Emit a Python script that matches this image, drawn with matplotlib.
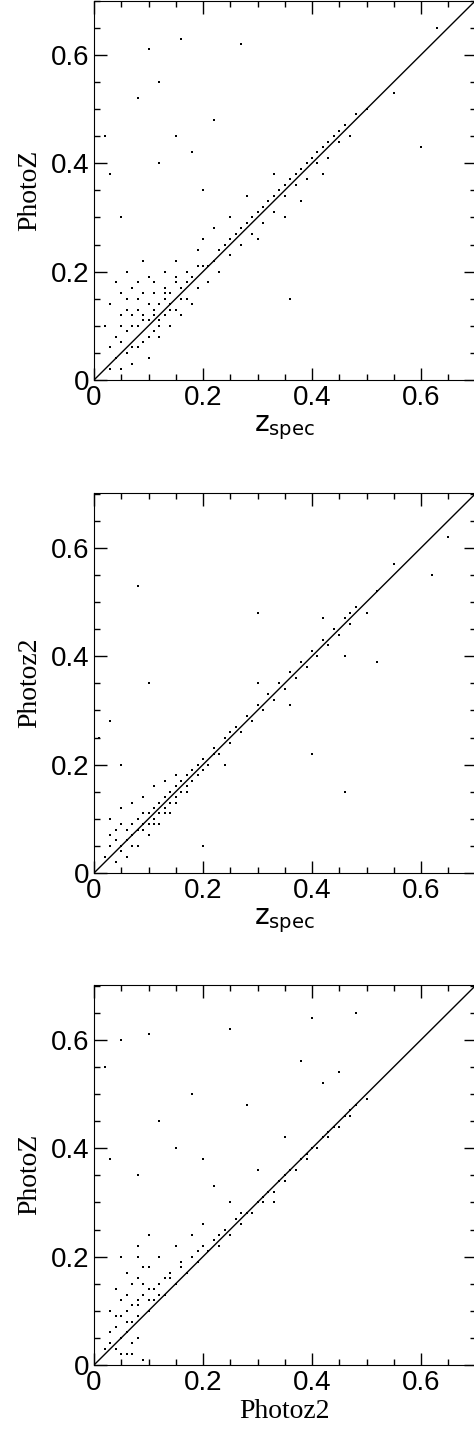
import matplotlib
matplotlib.use("Agg")
import matplotlib.pyplot as plt
from matplotlib.ticker import MultipleLocator

plt.rcParams['font.family'] = ['Liberation Serif', 'DejaVu Serif']

# Panel 1: z_spec vs PhotoZ (estimated representative points)
p1_x = [0.03,0.04,0.05,0.06,0.07,0.08,0.09,0.10,0.11,0.12,0.13,0.14,0.15,0.16,0.17,0.18,0.19,0.20,0.05,0.07,0.08,0.10,0.12,0.06,0.08,0.10,0.04,0.09,0.11,0.13,0.15,0.02,0.03,0.06,0.14,0.16,0.18,0.21,0.22,0.23,0.24,0.25,0.26,0.27,0.28,0.29,0.30,0.31,0.32,0.33,0.34,0.35,0.36,0.37,0.38,0.39,0.40,0.41,0.42,0.43,0.44,0.45,0.46,0.47,0.48,0.50,0.25,0.28,0.30,0.35,0.20,0.19,0.22,0.33,0.38,0.42,
        0.04,0.05,0.06,0.07,0.08,0.09,0.10,0.11,0.12,0.13,0.14,0.15,0.16,0.17,0.05,0.06,0.07,0.08,0.09,0.10,0.11,0.12,0.13,0.14,0.03,0.05,0.07,0.09,0.11,0.13,0.15,0.17,0.19,0.21,0.23,0.25,0.27,0.29,0.31,0.33,0.35,0.37,0.39,0.41,0.43,0.45,
        0.10,0.12,0.08,0.03,0.05,0.15,0.18,0.22,0.16,0.27,0.60,0.55,0.36,0.02,0.12,0.20,0.63]
p1_y = [0.02,0.08,0.12,0.05,0.10,0.13,0.07,0.11,0.09,0.14,0.12,0.16,0.13,0.17,0.15,0.19,0.17,0.21,0.02,0.03,0.06,0.04,0.08,0.15,0.18,0.19,0.18,0.22,0.16,0.20,0.22,0.10,0.14,0.20,0.10,0.12,0.14,0.18,0.22,0.20,0.25,0.23,0.27,0.25,0.29,0.27,0.31,0.29,0.33,0.31,0.35,0.34,0.37,0.36,0.39,0.37,0.41,0.40,0.43,0.41,0.45,0.44,0.47,0.45,0.49,0.50,0.30,0.34,0.26,0.30,0.26,0.24,0.28,0.38,0.33,0.38,
        0.04,0.07,0.09,0.12,0.10,0.12,0.08,0.13,0.11,0.15,0.14,0.18,0.15,0.18,0.10,0.13,0.06,0.15,0.11,0.14,0.12,0.10,0.16,0.13,0.06,0.16,0.17,0.16,0.18,0.17,0.19,0.20,0.21,0.21,0.24,0.26,0.28,0.30,0.32,0.34,0.36,0.38,0.40,0.42,0.44,0.46,
        0.61,0.55,0.52,0.38,0.30,0.45,0.42,0.48,0.63,0.62,0.43,0.53,0.15,0.45,0.40,0.35,0.65]

# Panel 2: z_spec vs Photoz2
p2_x = [0.02,0.03,0.04,0.05,0.06,0.07,0.08,0.09,0.10,0.11,0.12,0.13,0.14,0.15,0.16,0.17,0.18,0.19,0.20,0.03,0.05,0.07,0.09,0.11,0.13,0.15,0.04,0.06,0.08,0.10,0.12,0.14,0.21,0.22,0.23,0.24,0.25,0.26,0.27,0.28,0.29,0.30,0.31,0.32,0.33,0.34,0.35,0.36,0.37,0.38,0.39,0.40,0.41,0.42,0.43,0.44,0.45,0.46,0.47,0.48,0.50,0.52,0.24,0.30,0.36,0.42,0.46,
        0.03,0.04,0.05,0.06,0.07,0.08,0.09,0.10,0.11,0.12,0.13,0.14,0.15,0.16,0.17,0.18,0.19,0.05,0.07,0.09,0.11,0.13,0.15,0.17,0.20,0.22,0.25,0.28,0.32,0.36,0.40,0.44,0.47,
        0.01,0.03,0.08,0.10,0.30,0.46,0.52,0.55,0.62,0.20,0.05,0.40,0.65]
p2_y = [0.03,0.05,0.06,0.05,0.08,0.07,0.10,0.09,0.11,0.10,0.13,0.12,0.15,0.14,0.17,0.16,0.19,0.18,0.21,0.10,0.12,0.13,0.14,0.16,0.17,0.18,0.02,0.03,0.05,0.07,0.09,0.11,0.20,0.23,0.22,0.25,0.24,0.27,0.26,0.29,0.28,0.31,0.30,0.33,0.32,0.35,0.34,0.37,0.36,0.39,0.38,0.41,0.40,0.43,0.42,0.45,0.44,0.47,0.46,0.49,0.48,0.52,0.20,0.35,0.31,0.47,0.40,
        0.07,0.08,0.09,0.06,0.09,0.08,0.11,0.09,0.12,0.11,0.14,0.13,0.16,0.15,0.18,0.17,0.20,0.04,0.05,0.08,0.09,0.11,0.13,0.15,0.19,0.22,0.26,0.29,0.33,0.37,0.41,0.45,0.48,
        0.25,0.28,0.53,0.35,0.48,0.15,0.39,0.57,0.55,0.05,0.20,0.22,0.62]

# Panel 3: Photoz2 vs PhotoZ
p3_x = [0.02,0.03,0.04,0.05,0.06,0.07,0.08,0.09,0.10,0.05,0.06,0.07,0.08,0.09,0.04,0.06,0.08,0.10,0.11,0.12,0.13,0.14,0.15,0.16,0.17,0.18,0.19,0.20,0.21,0.22,0.23,0.24,0.25,0.26,0.27,0.28,0.29,0.30,0.31,0.32,0.33,0.34,0.35,0.36,0.37,0.38,0.39,0.40,0.41,0.42,0.43,0.44,0.45,0.46,0.47,0.48,0.50,0.12,0.15,0.18,0.20,0.25,0.08,0.10,0.03,0.05,
        0.03,0.04,0.05,0.06,0.07,0.08,0.09,0.10,0.11,0.12,0.13,0.14,0.04,0.05,0.06,0.07,0.08,0.09,0.10,0.06,0.07,0.08,0.16,0.19,0.23,0.27,0.31,0.35,0.39,0.43,0.47,
        0.02,0.05,0.10,0.12,0.15,0.18,0.20,0.25,0.28,0.30,0.35,0.38,0.42,0.45,0.48,0.22,0.40,0.03,0.33,0.08]
p3_y = [0.03,0.06,0.09,0.12,0.02,0.15,0.05,0.18,0.10,0.02,0.08,0.04,0.12,0.01,0.14,0.17,0.20,0.14,0.12,0.15,0.13,0.16,0.15,0.18,0.17,0.20,0.19,0.22,0.21,0.23,0.22,0.25,0.24,0.27,0.26,0.28,0.28,0.30,0.30,0.32,0.32,0.34,0.34,0.36,0.36,0.38,0.38,0.40,0.40,0.42,0.42,0.44,0.44,0.46,0.46,0.48,0.49,0.20,0.22,0.24,0.26,0.30,0.22,0.24,0.10,0.20,
        0.04,0.07,0.05,0.10,0.08,0.11,0.13,0.12,0.14,0.13,0.16,0.17,0.03,0.09,0.13,0.11,0.16,0.15,0.18,0.06,0.02,0.09,0.19,0.21,0.24,0.28,0.31,0.35,0.39,0.43,0.47,
        0.55,0.60,0.61,0.45,0.40,0.50,0.38,0.62,0.48,0.36,0.42,0.56,0.52,0.54,0.65,0.33,0.64,0.38,0.30,0.35]

panels = [
    (p1_x, p1_y, r'$\mathrm{z_{spec}}$', 'PhotoZ', 0.700),
    (p2_x, p2_y, r'$\mathrm{z_{spec}}$', 'Photoz2', 0.702),
    (p3_x, p3_y, 'Photoz2', 'PhotoZ', 0.702),
]
bottoms_px = [380, 873, 1365]

W, H = 474, 1436
fig = plt.figure(figsize=(W/100, H/100), dpi=100)
left_px = 94
xmax = 0.7
ppu_x = 545.0
width_px = ppu_x * xmax
ppu_y = 542.0
fmt = plt.FuncFormatter(lambda v, p: '0' if v == 0 else f'{v:.1f}')
for (x, y, xl, yl, ytop), b in zip(panels, bottoms_px):
    h_px = ppu_y * ytop
    ax = fig.add_axes([left_px / W, (H - b) / H, width_px / W, h_px / H])
    ax.scatter(x, y, s=4, c='black', marker='s', linewidths=0)
    ax.plot([0, 0.7], [0, 0.7], color='black', lw=1.0)
    ax.set_xlim(0, xmax)
    ax.set_ylim(0, ytop)
    ax.xaxis.set_major_locator(MultipleLocator(0.2))
    ax.xaxis.set_minor_locator(MultipleLocator(0.05))
    ax.yaxis.set_major_locator(MultipleLocator(0.2))
    ax.yaxis.set_minor_locator(MultipleLocator(0.05))
    ax.tick_params(which='both', direction='in', top=True, right=True, labelsize=20, width=1)
    ax.tick_params(which='major', length=9)
    ax.tick_params(which='minor', length=4.5)
    ax.xaxis.set_major_formatter(fmt)
    ax.yaxis.set_major_formatter(fmt)
    for lab in ax.get_xticklabels() + ax.get_yticklabels():
        lab.set_family(['Liberation Sans', 'DejaVu Sans'])
    ax.set_xlabel(xl, fontsize=20, labelpad=2)
    ax.set_ylabel(yl, fontsize=20, labelpad=6)

fig.savefig('out.png', dpi=100)
